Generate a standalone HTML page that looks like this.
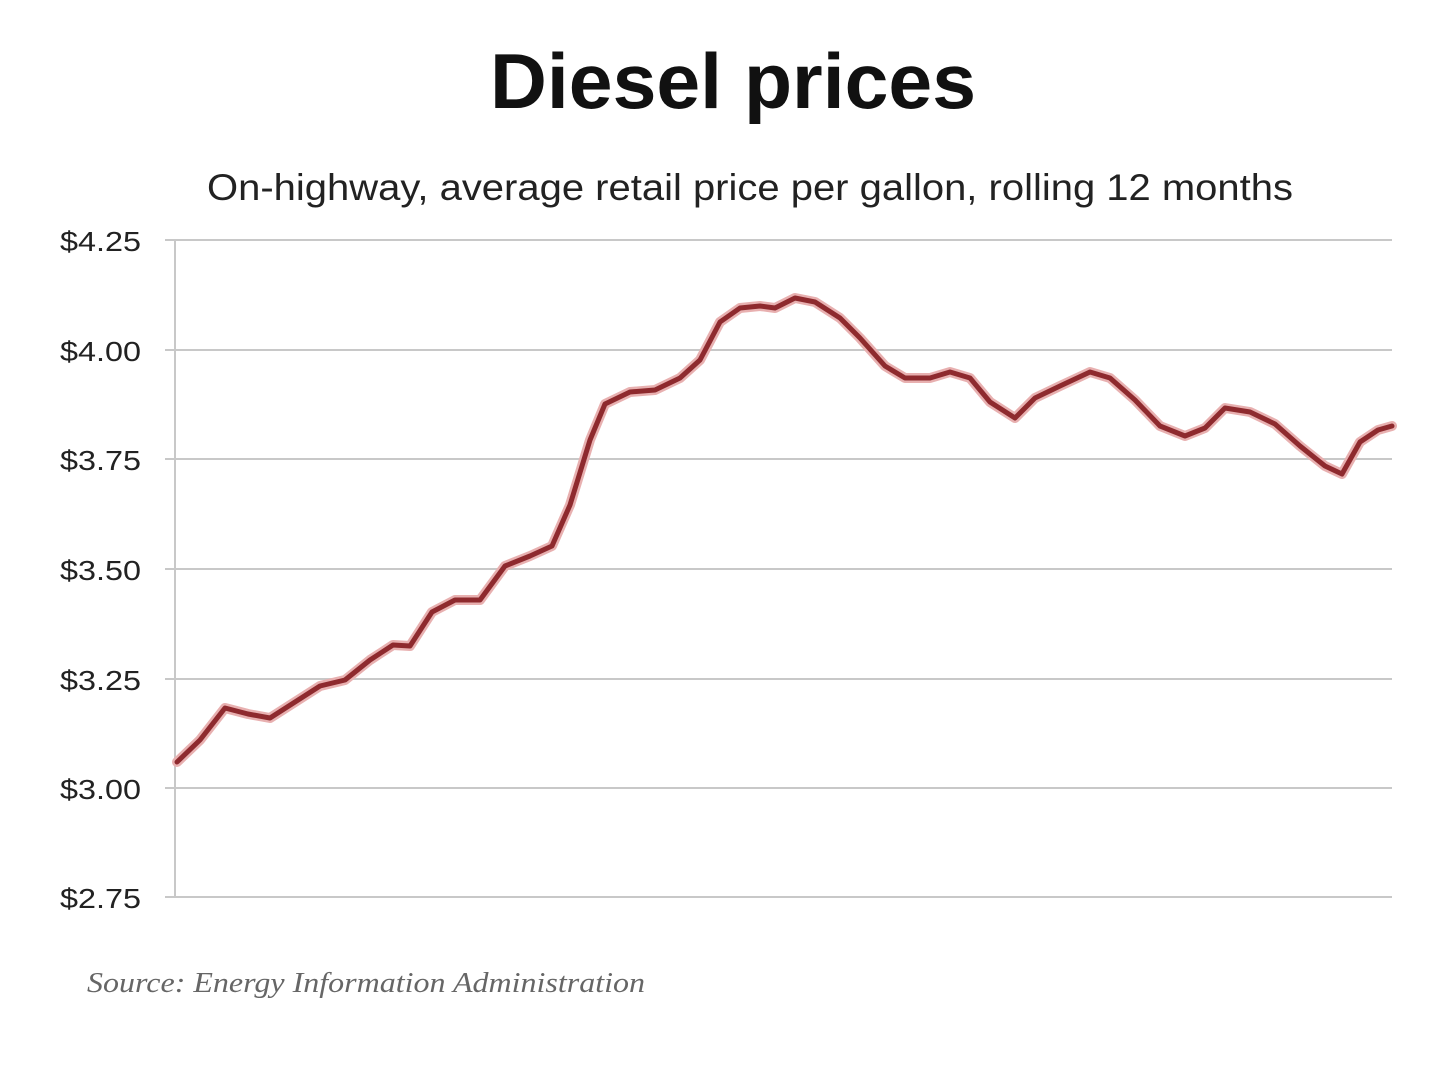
<!DOCTYPE html>
<html><head><meta charset="utf-8"><style>
html,body{margin:0;padding:0;background:#fff;}
body{width:1440px;height:1080px;overflow:hidden;}
</style></head><body>
<svg width="1440" height="1080" viewBox="0 0 1440 1080" xmlns="http://www.w3.org/2000/svg">
<text x="490" y="108" textLength="486" lengthAdjust="spacingAndGlyphs" font-family="Liberation Sans, sans-serif" font-weight="bold" font-size="78" fill="#111">Diesel prices</text>
<text x="207" y="200" textLength="1086" lengthAdjust="spacingAndGlyphs" font-family="Liberation Sans, sans-serif" font-size="37" fill="#222">On-highway, average retail price per gallon, rolling 12 months</text>
<g stroke="#c8c8c8" stroke-width="2">
<line x1="165" y1="240" x2="1392" y2="240"/>
<line x1="165" y1="350" x2="1392" y2="350"/>
<line x1="165" y1="459" x2="1392" y2="459"/>
<line x1="165" y1="569" x2="1392" y2="569"/>
<line x1="165" y1="679" x2="1392" y2="679"/>
<line x1="165" y1="788" x2="1392" y2="788"/>
<line x1="165" y1="897" x2="1392" y2="897"/>
<line x1="175" y1="240" x2="175" y2="897"/>
</g>
<g font-family="Liberation Sans, sans-serif" font-size="28" fill="#222">
<text x="60" y="251" textLength="81" lengthAdjust="spacingAndGlyphs">$4.25</text>
<text x="60" y="361" textLength="81" lengthAdjust="spacingAndGlyphs">$4.00</text>
<text x="60" y="470" textLength="81" lengthAdjust="spacingAndGlyphs">$3.75</text>
<text x="60" y="580" textLength="81" lengthAdjust="spacingAndGlyphs">$3.50</text>
<text x="60" y="690" textLength="81" lengthAdjust="spacingAndGlyphs">$3.25</text>
<text x="60" y="799" textLength="81" lengthAdjust="spacingAndGlyphs">$3.00</text>
<text x="60" y="908" textLength="81" lengthAdjust="spacingAndGlyphs">$2.75</text>
</g>
<g fill="none" stroke-linejoin="round" stroke-linecap="round">
<polyline stroke="#e8b0b0" stroke-width="10" points="177,762 200,740 225,708 248,714 270,718 295,702 320,686 345,680 370,660 393,645 410,646 432,612 455,600 480,600 505,566 530,556 552,546 570,505 590,440 605,404 630,392 655,390 680,378 700,360 720,322 740,308 760,306 775,308 795,298 815,302 840,318 860,338 885,366 905,378 930,378 950,372 970,378 990,402 1015,418 1035,398 1060,386 1090,372 1110,378 1135,400 1160,426 1185,436 1205,428 1225,408 1250,412 1275,424 1300,446 1325,466 1342,474 1360,442 1378,430 1392,426"/>
<polyline stroke="#8e2a2e" stroke-width="5" points="177,762 200,740 225,708 248,714 270,718 295,702 320,686 345,680 370,660 393,645 410,646 432,612 455,600 480,600 505,566 530,556 552,546 570,505 590,440 605,404 630,392 655,390 680,378 700,360 720,322 740,308 760,306 775,308 795,298 815,302 840,318 860,338 885,366 905,378 930,378 950,372 970,378 990,402 1015,418 1035,398 1060,386 1090,372 1110,378 1135,400 1160,426 1185,436 1205,428 1225,408 1250,412 1275,424 1300,446 1325,466 1342,474 1360,442 1378,430 1392,426"/>
</g>
<text x="87" y="992" textLength="558" lengthAdjust="spacingAndGlyphs" font-family="Liberation Serif, serif" font-style="italic" font-size="29" fill="#666">Source: Energy Information Administration</text>
</svg>
</body></html>
